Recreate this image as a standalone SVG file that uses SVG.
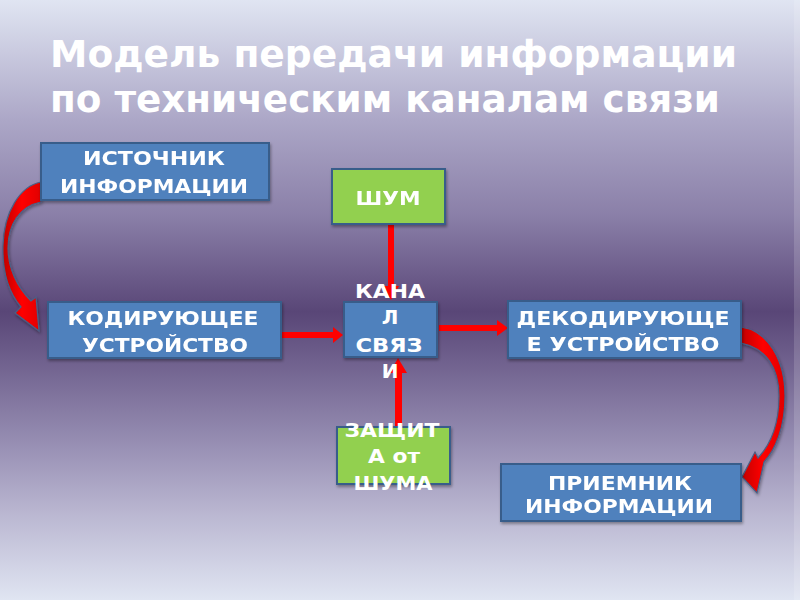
<svg xmlns="http://www.w3.org/2000/svg" width="800" height="600" viewBox="0 0 800 600">
<defs>
<linearGradient id="bg" x1="0" y1="0" x2="0" y2="1">
<stop offset="0" stop-color="#e0e5f2"/>
<stop offset="0.2" stop-color="#aca7c7"/>
<stop offset="0.36" stop-color="#8a7fa8"/>
<stop offset="0.52" stop-color="#594677"/>
<stop offset="0.6" stop-color="#6f608d"/>
<stop offset="0.75" stop-color="#9a92b6"/>
<stop offset="0.86" stop-color="#bbb8d2"/>
<stop offset="1" stop-color="#e0e5f2"/>
</linearGradient>
<linearGradient id="curve" x1="0" y1="0" x2="1" y2="0">
<stop offset="0" stop-color="#c00000"/>
<stop offset="0.5" stop-color="#ff0000"/>
<stop offset="1" stop-color="#e00000"/>
</linearGradient>
<filter id="sh" x="-10%" y="-10%" width="130%" height="140%">
<feDropShadow dx="1" dy="2" stdDeviation="1.5" flood-color="#000" flood-opacity="0.35"/>
</filter>
</defs>
<style>
.blue{fill:#4f81bd;stroke:#385d8a;stroke-width:2}
.green{fill:#92d050;stroke:#385d8a;stroke-width:2}
.t{font-family:"DejaVu Sans","Verdana",sans-serif;font-weight:bold;font-size:20px;fill:#fff;text-anchor:middle}
.title{font-family:"DejaVu Sans",sans-serif;font-weight:bold;font-size:37px;fill:#fff}
.arr{fill:#ff0000}
.carr{fill:url(#curve);stroke:#4a5f86;stroke-width:1.2}
</style>
<rect x="0" y="0" width="800" height="600" fill="url(#bg)"/>
<rect x="794" y="0" width="6" height="600" fill="#ffffff" opacity="0.15"/>

<g id="title">
<text class="title" x="50" y="67" textLength="687" lengthAdjust="spacingAndGlyphs">Модель передачи информации</text>
<text class="title" x="50" y="112" textLength="670" lengthAdjust="spacingAndGlyphs">по техническим каналам связи</text>
</g>

<g id="connectors">
<path class="arr" d="M282,332 L333,332 L333,327 L343,335 L333,343 L333,338 L282,338 Z"/>
<path class="arr" d="M439,325 L497,325 L497,320 L508,328 L497,336 L497,331 L439,331 Z"/>
<path class="arr" d="M388,225 L394,225 L394,286 L399,286 L391,300 L383,286 L388,286 Z"/>
<path class="arr" d="M395,428 L402,428 L402,373 L407,373 L398,358 L390,373 L395,373 Z"/>
<path class="carr" filter="url(#sh)" d="M41,182 C20,186 4,212 3,245 C2,274 10,294 21,307 L15,313 L39,331 L36,297 L31,301 C17,287 8,268 8,248 C8,224 20,206 41,202 Z"/>
<path class="carr" filter="url(#sh)" d="M741,327 C768,331 785,360 785,396 C785,428 775,450 764,462 L757,493 L742,477 L755,452 L758,458 C771,444 779,424 779,396 C779,368 766,348 741,343 Z"/>
</g>

<g id="source" filter="url(#sh)">
<rect class="blue" x="41" y="143" width="228" height="57"/>
<text class="t" x="154" y="165" textLength="142" lengthAdjust="spacingAndGlyphs">ИСТОЧНИК</text>
<text class="t" x="154" y="193" textLength="188" lengthAdjust="spacingAndGlyphs">ИНФОРМАЦИИ</text>
</g>

<g id="noise" filter="url(#sh)">
<rect class="green" x="332" y="169" width="113" height="55"/>
<text class="t" x="388" y="205" textLength="65" lengthAdjust="spacingAndGlyphs">ШУМ</text>
</g>

<g id="coder" filter="url(#sh)">
<rect class="blue" x="48" y="302" width="233" height="56"/>
<text class="t" x="163" y="325" textLength="191" lengthAdjust="spacingAndGlyphs">КОДИРУЮЩЕЕ</text>
<text class="t" x="165" y="352" textLength="166" lengthAdjust="spacingAndGlyphs">УСТРОЙСТВО</text>
</g>

<g id="channel">
<rect class="blue" x="344" y="302" width="93" height="55" filter="url(#sh)"/>
<text class="t" x="390" y="298" textLength="70" lengthAdjust="spacingAndGlyphs">КАНА</text>
<text class="t" x="390" y="324">Л</text>
<text class="t" x="389" y="352" textLength="67" lengthAdjust="spacingAndGlyphs">СВЯЗ</text>
<text class="t" x="390" y="378">И</text>
</g>

<g id="decoder" filter="url(#sh)">
<rect class="blue" x="508" y="301" width="233" height="57"/>
<text class="t" x="623" y="325" textLength="213" lengthAdjust="spacingAndGlyphs">ДЕКОДИРУЮЩЕ</text>
<text class="t" x="623" y="351" textLength="193" lengthAdjust="spacingAndGlyphs">Е УСТРОЙСТВО</text>
</g>

<g id="protection">
<rect class="green" x="337" y="427" width="113" height="57" filter="url(#sh)"/>
<text class="t" x="392" y="437" textLength="95" lengthAdjust="spacingAndGlyphs">ЗАЩИТ</text>
<text class="t" x="394" y="463" textLength="52" lengthAdjust="spacingAndGlyphs">А от</text>
<text class="t" x="393" y="490" textLength="79" lengthAdjust="spacingAndGlyphs">ШУМА</text>
</g>

<g id="receiver" filter="url(#sh)">
<rect class="blue" x="501" y="464" width="240" height="57"/>
<text class="t" x="620" y="490" textLength="144" lengthAdjust="spacingAndGlyphs">ПРИЕМНИК</text>
<text class="t" x="619" y="513" textLength="188" lengthAdjust="spacingAndGlyphs">ИНФОРМАЦИИ</text>
</g>
</svg>
